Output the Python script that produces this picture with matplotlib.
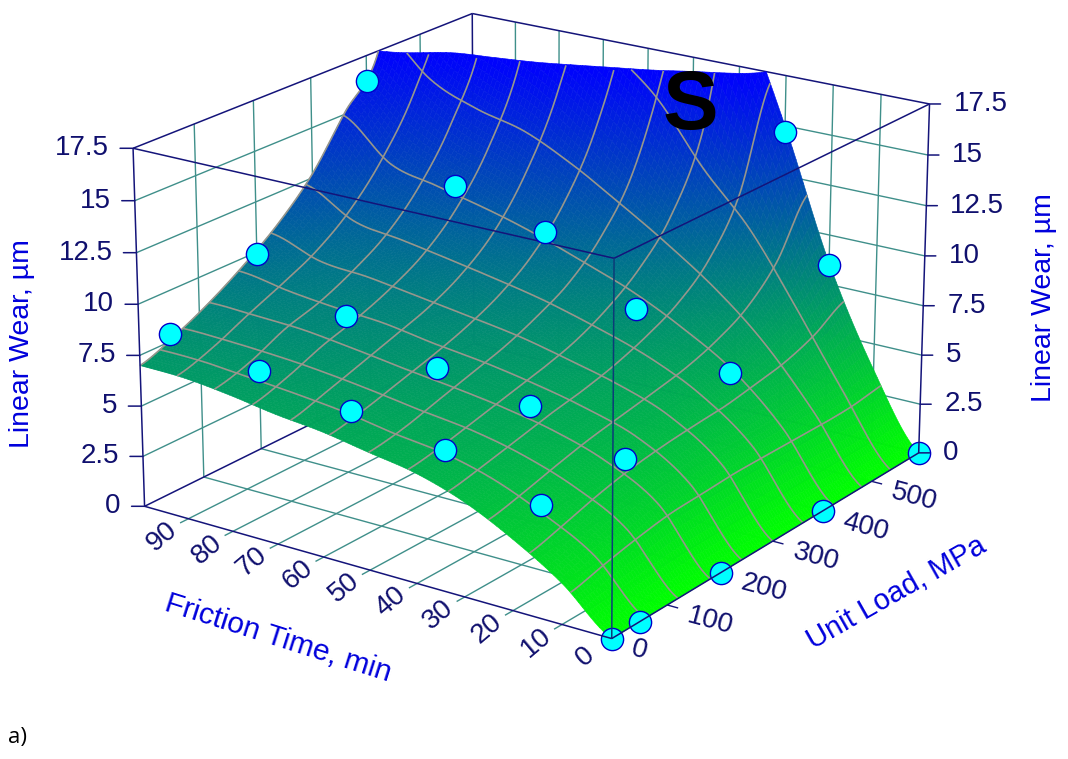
import numpy as np
import matplotlib
matplotlib.use('Agg')
import matplotlib.pyplot as plt
from mpl_toolkits.mplot3d import proj3d
from mpl_toolkits.mplot3d.art3d import Poly3DCollection

plt.rcParams['font.family'] = ['Liberation Sans', 'DejaVu Sans']

W, H = 1068, 759

# response surface, rows are friction time and columns are unit load
time_grid = [0, 10, 20, 30, 40, 50, 60, 70, 80, 90, 100]
load_grid = [0, 60, 120, 180, 240, 300, 360, 420, 480, 540, 600]
wear_grid = np.array([
    [0.0, 0.0, 0.0, 0.0, 0.0, 0.0, 0.0, 0.0, 0.0, 0.0, 0.0],
    [1.95, 2.4, 2.8, 3.1, 3.2, 3.3, 3.3, 3.3, 3.3, 3.4, 3.7],
    [3.4, 3.8, 4.3, 4.7, 5.0, 5.2, 5.4, 5.8, 6.3, 7.2, 8.6],
    [4.55, 4.9, 5.3, 5.7, 6.0, 6.4, 6.9, 7.6, 8.8, 11.0, 15.0],
    [5.3, 5.6, 6.0, 6.4, 6.8, 7.3, 8.1, 9.2, 10.9, 14.0, 20.5],
    [5.7, 6.0, 6.5, 7.0, 7.5, 8.2, 9.1, 10.6, 13.0, 17.5, 24.0],
    [6.1, 6.5, 7.0, 7.5, 8.1, 8.9, 10.1, 12.0, 15.0, 20.0, 28.9],
    [6.35, 6.9, 7.5, 8.1, 8.7, 9.6, 11.0, 13.3, 16.7, 22.5, 34.0],
    [6.7, 7.2, 8.0, 8.5, 9.3, 10.3, 11.9, 14.2, 18.0, 26.0, 40.0],
    [6.95, 7.5, 8.3, 9.0, 9.8, 11.0, 12.8, 15.5, 19.5, 29.0, 45.0],
    [7.0, 7.7, 8.6, 9.7, 11.0, 12.7, 15.1, 17.3, 24.0, 32.0, 51.0],
])

# measured points
point_time = [0, 0, 0, 0, 0, 20, 20, 20, 20, 30, 40, 40, 40, 60, 60, 60, 80, 80, 80, 100, 100, 100]
point_load = [0, 50, 200, 400, 600, 50, 200, 400, 600, 600, 50, 200, 400, 50, 200, 400, 50, 200, 400, 50, 200, 400]
point_wear = [0, 0, 0, 0, 0, 4.3, 4.3, 5.7, 8.5, 14.7, 5.7, 5.7, 7.8, 6.4, 6.4, 10.6, 7.2, 7.9, 11.9, 7.9, 9.9, 16.2]

time_ticks = [0, 10, 20, 30, 40, 50, 60, 70, 80, 90]
load_ticks = [0, 100, 200, 300, 400, 500]
wear_ticks = [0, 2.5, 5, 7.5, 10, 12.5, 15, 17.5]
wear_labels = ['0', '2.5', '5', '7.5', '10', '12.5', '15', '17.5']

TIME_MAX, LOAD_MAX, WEAR_MAX = 100, 600, 17.5

NAVY = '#14147a'
TEAL = '#3f8f8a'
MESH = '#96968c'
TICK_TEXT = '#10106e'
LABEL = '#0000dc'
CYAN = '#00ffff'


def cr_weights(u):
    # Catmull-Rom weights for the four neighbouring table entries
    return np.stack([-0.5 * u + u ** 2 - 0.5 * u ** 3,
                     1 - 2.5 * u ** 2 + 1.5 * u ** 3,
                     0.5 * u + 2 * u ** 2 - 1.5 * u ** 3,
                     -0.5 * u ** 2 + 0.5 * u ** 3])


def wear_at(t, l):
    t, l = np.asarray(t, float), np.asarray(l, float)
    n = len(time_grid) - 1
    it = np.clip((t / 10).astype(int), 0, n - 1)
    il = np.clip((l / 60).astype(int), 0, n - 1)
    wt = cr_weights(t / 10 - it)
    wl = cr_weights(l / 60 - il)
    z = np.zeros(t.shape)
    for a in range(4):
        for b in range(4):
            ia = np.clip(it + a - 1, 0, n)
            ib = np.clip(il + b - 1, 0, n)
            z += wt[a] * wl[b] * wear_grid[ia, ib]
    return z


def clip_top(quad):
    # cut one facet at the ceiling of the wear axis
    out = []
    for a, b in zip(quad, quad[1:] + quad[:1]):
        if a[2] <= WEAR_MAX:
            out.append(a)
        if (a[2] <= WEAR_MAX) != (b[2] <= WEAR_MAX):
            f = (WEAR_MAX - a[2]) / (b[2] - a[2])
            out.append(tuple(a[i] + f * (b[i] - a[i]) for i in range(3)))
    return out


fig = plt.figure(figsize=(W / 100, H / 100), dpi=100)
ax = fig.add_axes([0, 0, 1, 1], projection='3d', computed_zorder=False)
ax.set_axis_off()
ax.set_xlim(0, LOAD_MAX)
ax.set_ylim(0, TIME_MAX)
ax.set_zlim(0, WEAR_MAX)
ax.view_init(elev=20.01, azim=-145.18)
ax.set_proj_type('persp', focal_length=0.9776)
ax.set_box_aspect((1.5046, 1.4963, 1))

# place the axes so that one projected unit is 4628.6 px around the chosen centre
k, cx, cy = 4628.6, 537.3, 305.0
vx, vy = ax.viewLim.intervalx, ax.viewLim.intervaly
left = cx + k * vx[0]
bottom = H - (cy - k * vy[0])
ax.set_position([left / W, bottom / H, k * (vx[1] - vx[0]) / W, k * (vy[1] - vy[0]) / H])


def line(x, y, z, color, lw, zorder):
    ax.plot(x, y, z, color=color, lw=lw, zorder=zorder, solid_capstyle='butt')


# floor and back walls
for t in time_ticks[1:]:
    line([-14, LOAD_MAX], [t, t], [0, 0], TEAL, 1.0, 1)
    line([LOAD_MAX, LOAD_MAX], [t, t], [0, WEAR_MAX], TEAL, 1.0, 1)
for l in load_ticks[1:]:
    line([l, l], [0, TIME_MAX], [0, 0], TEAL, 1.0, 1)
    line([l, l], [TIME_MAX, TIME_MAX], [0, WEAR_MAX], TEAL, 1.0, 1)
for z in wear_ticks[1:-1]:
    line([0, LOAD_MAX], [TIME_MAX, TIME_MAX], [z, z], TEAL, 1.0, 1)
    line([LOAD_MAX, LOAD_MAX], [0, TIME_MAX], [z, z], TEAL, 1.0, 1)
line([0, LOAD_MAX], [TIME_MAX, TIME_MAX], [0, 0], NAVY, 1.1, 1)
line([LOAD_MAX, LOAD_MAX], [0, TIME_MAX], [0, 0], NAVY, 1.1, 1)
line([LOAD_MAX, LOAD_MAX], [TIME_MAX, TIME_MAX], [0, WEAR_MAX], NAVY, 1.1, 1)
line([0, LOAD_MAX], [TIME_MAX, TIME_MAX], [WEAR_MAX, WEAR_MAX], NAVY, 1.1, 1)
line([LOAD_MAX, LOAD_MAX], [0, TIME_MAX], [WEAR_MAX, WEAR_MAX], NAVY, 1.1, 1)

# surface, coloured green to blue with height
ts = np.linspace(0, TIME_MAX, 121)
ls = np.linspace(0, LOAD_MAX, 121)
LL, TT = np.meshgrid(ls, ts)
ZZ = wear_at(TT, LL)
polys, heights = [], []
for i in range(len(ts) - 1):
    for j in range(len(ls) - 1):
        zs = ZZ[i:i + 2, j:j + 2]
        if zs.min() > WEAR_MAX:
            continue
        quad = [(ls[j], ts[i], zs[0, 0]), (ls[j + 1], ts[i], zs[0, 1]),
                (ls[j + 1], ts[i + 1], zs[1, 1]), (ls[j], ts[i + 1], zs[1, 0])]
        if zs.max() > WEAR_MAX:
            quad = clip_top(quad)
        polys.append(quad)
        heights.append(np.mean([q[2] for q in quad]))
frac = np.clip(np.array(heights) / WEAR_MAX, 0, 1)
colors = np.c_[np.zeros_like(frac), 1 - frac, frac]
surf = Poly3DCollection(polys, facecolors=colors, edgecolors=colors, linewidths=0.4, zorder=2)
ax.add_collection3d(surf)

# mesh drawn on the surface, the low load lines pull in as time grows
mesh_t = np.linspace(0, TIME_MAX, 400)
for l0 in np.arange(60, 590, 60):
    l = l0 * (1 - 0.5 * (mesh_t / 100) * (1 - l0 / LOAD_MAX))
    z = wear_at(mesh_t, l)
    z[z > WEAR_MAX] = np.nan
    line(l, mesh_t, z, MESH, 1.2, 3)
mesh_l = np.linspace(0, LOAD_MAX, 400)
for t0 in np.arange(100 / 12, 100.1, 100 / 12):
    z = wear_at(np.full(400, t0), mesh_l)
    z[z > WEAR_MAX] = np.nan
    line(mesh_l, np.full(400, t0), z, MESH, 1.2, 3)

# front edges of the box pass over the surface
line([0, LOAD_MAX], [0, 0], [WEAR_MAX, WEAR_MAX], NAVY, 1.1, 4)
line([0, 0], [0, TIME_MAX], [WEAR_MAX, WEAR_MAX], NAVY, 1.1, 4)
for l in load_ticks[1:]:
    line([l, l], [0, -2.2], [0, 0], NAVY, 1.0, 4)

ax.plot(point_load, point_time, point_wear, ls='none', marker='o', ms=16, mfc=CYAN,
        mec='#0000c8', mew=1.0, zorder=5)

# axes on top of the points
line([0, 0], [0, 0], [0, WEAR_MAX], '#0c3c78', 1.1, 6)
line([0, LOAD_MAX], [0, 0], [0, 0], NAVY, 1.1, 6)
line([0, 0], [0, TIME_MAX], [0, 0], NAVY, 1.1, 6)
line([0, 0], [TIME_MAX, TIME_MAX], [0, WEAR_MAX], NAVY, 1.1, 6)
line([LOAD_MAX, LOAD_MAX], [0, 0], [0, WEAR_MAX], NAVY, 1.1, 6)

M = ax.get_proj()


def label_at(text, x, y, z, dx, dy, **kw):
    p = proj3d.proj_transform(x, y, z, M)
    ax.annotate(text, (p[0], p[1]), xytext=(dx, -dy), textcoords='offset pixels',
                ha=kw.pop('ha', 'center'), va='center', annotation_clip=False,
                color=TICK_TEXT, fontsize=20, zorder=8, **kw)


def z_tick(x, y, z, dx):
    p = proj3d.proj_transform(x, y, z, M)
    ax.annotate('', (p[0], p[1]), xytext=(dx, 0), textcoords='offset pixels', annotation_clip=False,
                arrowprops=dict(arrowstyle='-', color=NAVY, lw=1.1, shrinkA=0, shrinkB=0), zorder=6)


for z, text in zip(wear_ticks, wear_labels):
    z_tick(0, TIME_MAX, z, -13)
    z_tick(LOAD_MAX, 0, z, 11)
    label_at(text, 0, TIME_MAX, z, -24, 0, ha='right')
    label_at(text, LOAD_MAX, 0, z, 24, 0, ha='left')
for t in time_ticks:
    label_at(str(t), 0, t, 0, -26, 18, rotation=40)
for l in load_ticks:
    label_at(str(l), l, 0, 0, 43 if l else 27, 16 if l else 12, rotation=-15)


def fig_text(x, y, text, **kw):
    fig.text(x / W, 1 - y / H, text, ha='center', va='center', **kw)


fig_text(22, 344, 'Linear Wear, µm', color=LABEL, fontsize=20.5, rotation=90)
fig_text(1044, 298, 'Linear Wear, µm', color=LABEL, fontsize=20.5, rotation=90)
fig_text(278, 638, 'Friction Time, min', color=LABEL, fontsize=21.5, rotation=-17.6, rotation_mode='anchor')
fig_text(897, 593, 'Unit Load, MPa', color=LABEL, fontsize=21, rotation=29.5, rotation_mode='anchor')
fig_text(690, 107, 'S', color='black', fontsize=60, fontweight='bold')
fig.text(8 / W, 1 - 738 / H, 'a)', color='black', fontsize=16, family='Open Sans', va='center')

fig.savefig('out.png', dpi=100)
